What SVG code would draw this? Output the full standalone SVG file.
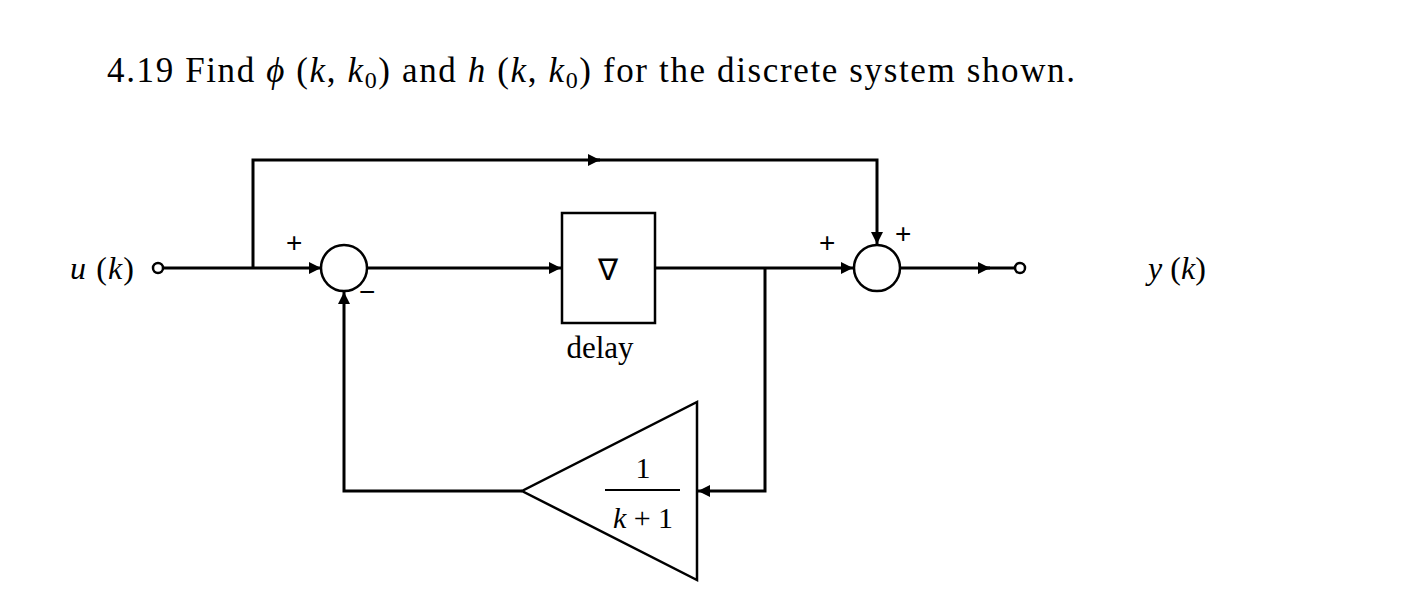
<svg xmlns="http://www.w3.org/2000/svg" width="1424" height="608" viewBox="0 0 1424 608">
<style>
text{font-family:"Liberation Serif",serif;fill:#000}
.i{font-style:italic}
.s{font-family:"Liberation Sans",sans-serif;font-size:28px}
.ln{stroke:#000;stroke-width:3;fill:none}
.nd{stroke:#000;stroke-width:2.5;fill:#fff}
</style>
<defs><marker id="a" viewBox="0 0 10 10" refX="10" refY="5" markerWidth="16" markerHeight="12" markerUnits="userSpaceOnUse" orient="auto"><path d="M0,0L10,5L0,10z" fill="#000"/></marker></defs>
<rect width="1424" height="608" fill="#fff"/>
<text x="107" y="82" font-size="35" textLength="968" lengthAdjust="spacing">4.19  Find <tspan class="i">ϕ</tspan> (<tspan class="i">k</tspan>, <tspan class="i">k</tspan><tspan font-size="24" dy="6">0</tspan><tspan dy="-6">) and </tspan><tspan class="i">h</tspan> (<tspan class="i">k</tspan>, <tspan class="i">k</tspan><tspan font-size="24" dy="6">0</tspan><tspan dy="-6">) for the discrete system shown.</tspan></text>
<g id="connectors">
<path class="ln" d="M163,268H321" marker-end="url(#a)"/>
<path class="ln" d="M253,268V160H600" marker-end="url(#a)"/>
<path class="ln" d="M595,160H877V244" marker-end="url(#a)"/>
<path class="ln" d="M368,268H561" marker-end="url(#a)"/>
<path class="ln" d="M655,268H853" marker-end="url(#a)"/>
<path class="ln" d="M900,268H990" marker-end="url(#a)"/>
<path class="ln" d="M985,268H1014"/>
<path class="ln" d="M765,268V491H698" marker-end="url(#a)"/>
<path class="ln" d="M522,491H344V292" marker-end="url(#a)"/>
</g>
<g id="u"><text x="70" y="279" font-size="32" textLength="64" lengthAdjust="spacing"><tspan class="i">u</tspan> (<tspan class="i">k</tspan>)</text><circle cx="158" cy="268" r="5" class="nd" stroke-width="2"/></g>
<g id="sum1"><circle cx="344" cy="268" r="23" class="nd"/><text x="286" y="252" class="s">+</text><text x="359" y="301" class="s">−</text></g>
<g id="delay"><rect x="562" y="213" width="93" height="110" class="nd"/><text x="608" y="280" font-size="30" text-anchor="middle">∇</text><text x="600" y="358" font-size="31" text-anchor="middle">delay</text></g>
<g id="sum2"><circle cx="877" cy="268" r="23" class="nd"/><text x="819" y="252" class="s">+</text><text x="895" y="243" class="s">+</text></g>
<g id="y"><circle cx="1020" cy="268" r="5" class="nd" stroke-width="2"/><text x="1148" y="279" font-size="32" textLength="58" lengthAdjust="spacing"><tspan class="i">y</tspan> (<tspan class="i">k</tspan>)</text></g>
<g id="gain"><path d="M697,402V580L522,491Z" class="nd"/><text x="643" y="478" font-size="30" text-anchor="middle">1</text><line x1="605" y1="490" x2="680" y2="490" stroke="#000" stroke-width="2"/><text x="643" y="528" font-size="30" text-anchor="middle"><tspan class="i">k</tspan> + 1</text></g>
</svg>
